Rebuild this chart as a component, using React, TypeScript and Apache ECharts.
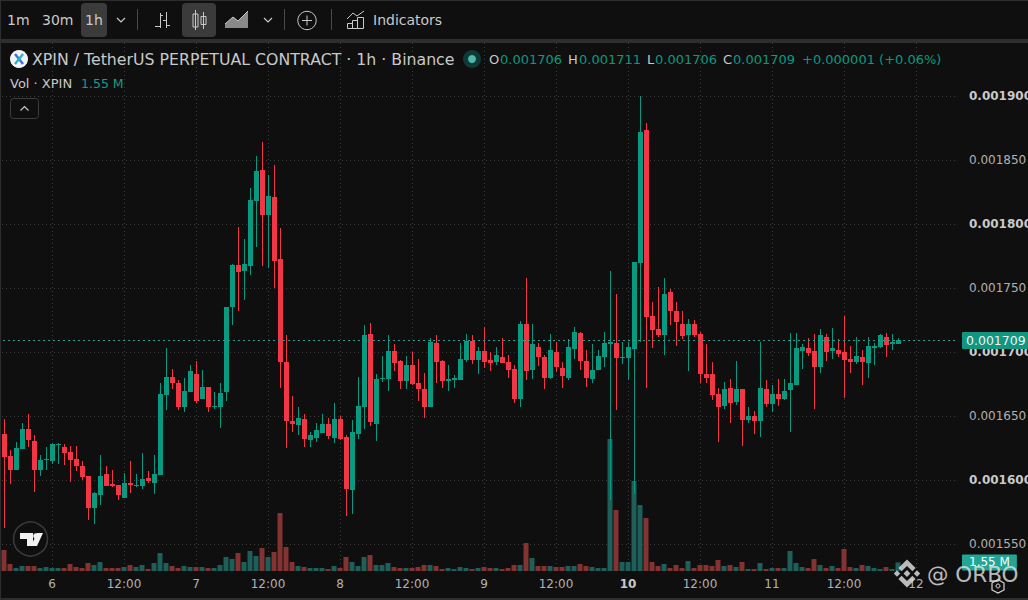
import React, { useEffect, useRef } from "react";
import * as echarts from "echarts";

// Prices are in millionths of USDT (1636 = 0.001636); volumes are in millions.
const opens = [1636,1618.5,1608,1624.5,1639.8,1630.5,1608,1615.6,1615.1,1627.3,1625.8,1621.9,1616.4,1610.9,1603.1,1578.4,1588.5,1604.7,1596.9,1596.1,1586.2,1597.7,1595.6,1595.6,1601.6,1597.9,1604.2,1666.4,1680.5,1675.8,1657,1668.8,1682.8,1663.3,1672.7,1657,1657,1668.8,1735.2,1767.9,1763.3,1767.2,1818,1842.2,1807,1821.1,1772.7,1692.2,1646.1,1643,1647.7,1631.3,1632.8,1636.7,1643.8,1632.8,1647.7,1633.6,1592.2,1635.9,1657,1714,1643.8,1678.9,1678.9,1700.8,1693,1677.4,1689.8,1675.8,1671.1,1657,1707,1693,1677.4,1678.1,1678.1,1693.8,1708.6,1693.8,1700.8,1693.8,1692.2,1696.1,1692.2,1686.7,1663.3,1721.9,1686,1703.9,1696.1,1679.7,1700,1687.5,1679.7,1702.3,1714.8,1693,1678.9,1686,1696.1,1706.3,1707,1695.3,1695.3,1702.3,1769.5,1873.4,1728.1,1718,1713.3,1746.9,1732,1721.9,1713.3,1721.9,1714.1,1682.8,1682.8,1667.2,1657.8,1671.9,1660.9,1671.1,1646.9,1650,1646.1,1671.1,1659.4,1667.2,1663.3,1670.3,1674.2,1700.8,1703.1,1700.8,1688.3,1711.7,1700.8,1701.6,1700,1694.5,1692.2,1696.1,1691.4,1703.1,1703.9,1711.7,1706.2,1706];
const highs = [1647.4,1623.4,1629.4,1644.3,1651.3,1635.2,1619.5,1625.5,1628.6,1628.6,1628.1,1626.6,1626.6,1614.8,1603.1,1590.6,1619.5,1610.9,1607.8,1596.1,1605.5,1614.8,1604.7,1621.1,1607,1619.5,1675.8,1703.1,1686.7,1678.1,1679.7,1689.8,1693,1685.9,1672.7,1668.8,1675.8,1735.2,1768.8,1797.7,1788.3,1828.1,1853.1,1864,1838.3,1846.1,1796.9,1713.3,1665.6,1657,1651.6,1637.5,1644.5,1651.6,1648.4,1660.2,1650,1635.2,1646.9,1680.5,1721.1,1722.7,1682.8,1696.9,1713.3,1706.2,1693.8,1696.9,1700,1694.5,1683.6,1710.9,1713.3,1693.8,1689.8,1682,1707,1714,1713.3,1703.9,1719.5,1700,1703.9,1710.9,1697.7,1689.8,1724.2,1757.8,1721.9,1707,1697.7,1714,1707.8,1692.2,1710.2,1719.5,1715.6,1701.6,1706.2,1701.6,1715.6,1763.3,1745.3,1707.8,1707.8,1770.3,1900,1878.9,1739.1,1750.8,1757.8,1749.2,1739.1,1732,1725.8,1725,1715.6,1706.3,1692.2,1671.9,1676.6,1678.9,1693,1671.1,1657,1653.9,1707.8,1678.1,1674.2,1678.9,1678.9,1714.8,1714.8,1706.2,1710.9,1714,1718,1714,1718.7,1710.1,1728.1,1704.7,1711.7,1701.6,1711.7,1707,1714,1714.8,1714,1711];
const lows = [1562.7,1597.1,1608,1624.5,1626,1590.9,1603.4,1608,1612.8,1612.8,1611.7,1598.7,1607.3,1600.3,1569,1565.9,1580.7,1595.6,1594.8,1584.6,1586.2,1590.1,1594.8,1593.2,1597.9,1589.3,1604.2,1654.7,1671.1,1654.7,1653.1,1668.8,1659.9,1663.3,1653.1,1655.5,1640.6,1661.7,1721.1,1732,1740.6,1760.2,1782,1767.2,1765.6,1750,1671.9,1625,1637.5,1635.2,1625.8,1625.8,1629.7,1636.7,1632,1628.9,1631.3,1571.9,1573.4,1632,1639.9,1642.2,1630.5,1676.6,1669.5,1685.2,1671.1,1671.1,1674.2,1661.7,1648.4,1657,1675.8,1671.9,1669.5,1671.9,1678.1,1692.2,1690.6,1682.8,1687.5,1685.2,1689.8,1691.4,1679.7,1660.2,1657,1678.1,1678.9,1689,1671.1,1678.9,1684.4,1671.9,1678.1,1694.5,1686,1672.7,1675.8,1686,1688.3,1584.4,1654.7,1690.6,1678.1,1589,1707.8,1671.9,1703.1,1711.7,1697.7,1721.1,1704.7,1710.2,1685.2,1711.7,1675.5,1675.8,1662.5,1629.7,1655.5,1644.5,1658.6,1626.6,1644.5,1635.9,1633.6,1657,1653.1,1657.8,1662.5,1637.5,1674.2,1686.7,1696.9,1655.5,1683.6,1693,1694.5,1696.1,1664,1683.6,1690.6,1674.2,1679.7,1689.8,1703.1,1696.1,1701.6,1706];
const closes = [1618.2,1608,1625,1639.8,1631.5,1608,1615.6,1616.4,1628.1,1628.1,1621.1,1615.9,1611.2,1602.6,1578.4,1589.9,1603.1,1595.6,1595.6,1588.5,1597.7,1596.4,1596.1,1600.8,1599.5,1604.7,1667.2,1680.5,1675.8,1657,1669.5,1685.2,1661.7,1672.7,1657,1657.8,1668,1735.2,1767.9,1762.5,1768.8,1818.8,1841.4,1807,1821.9,1771.1,1692.2,1646.1,1643.8,1648.4,1632,1635.2,1639.1,1643.8,1634.4,1647.7,1632,1593,1637.5,1657.8,1713.3,1645.3,1678.9,1679.7,1700.8,1691.4,1677.4,1689.8,1675,1671.1,1657,1707.8,1692.2,1677.4,1678.9,1679.7,1694.5,1708.6,1693.8,1700.8,1692.2,1691.4,1697.7,1691.4,1686,1663.3,1721.9,1685.2,1706.2,1696.1,1679.7,1701.6,1688.3,1681.3,1703.9,1715.6,1693,1679.7,1686,1696.9,1707,1707.8,1695.3,1696.1,1703.9,1770.3,1871.9,1727.4,1717.2,1713.3,1745.3,1732,1723.4,1712.5,1721.9,1713.3,1682.8,1679.7,1666.4,1657,1671.1,1660.2,1671.1,1646.9,1650,1646.1,1671.9,1659.4,1667.2,1663.3,1669.5,1675.8,1703.1,1703.9,1699.2,1688.3,1713.3,1700,1703.1,1698.4,1693.7,1692.2,1696.9,1692.2,1704.7,1704.7,1713.3,1705.5,1707.8,1709];
const volumes = [3.78,1.26,0.54,0.9,0.9,0.9,0.54,0.72,0.54,0.54,0.54,1.26,0.72,0.54,1.44,1.08,1.62,0.54,0.54,0.54,0.72,1.08,0.72,1.08,0.36,1.44,3.24,1.44,0.9,0.54,0.9,0.72,0.72,0.72,0.54,0.54,1.08,2.52,2.16,3.24,1.62,3.6,2.7,4.14,2.52,3.42,10.44,4.32,1.62,0.9,0.72,0.54,0.54,0.54,0.36,0.9,0.54,2.52,1.62,0.9,2.52,2.88,1.08,1.08,1.44,0.72,0.54,0.54,0.54,0.72,1.08,1.08,0.9,0.36,0.54,0.36,0.72,0.54,0.36,0.54,0.72,0.54,0.54,0.36,0.54,1.08,1.08,5.04,2.34,0.9,0.9,0.9,0.72,0.72,0.9,0.9,1.26,0.9,0.72,0.54,0.54,23.76,10.98,1.62,1.62,16.2,11.88,9.54,1.62,0.9,1.26,0.54,1.08,0.54,1.8,0.54,1.08,1.08,0.9,1.98,0.9,1.08,0.72,1.62,0.36,0.36,1.44,0.36,0.54,0.54,0.54,3.6,1.44,0.72,0.54,2.16,1.08,0.54,0.9,0.54,3.96,0.72,0.54,1.08,0.9,0.54,0.36,0.72,0.36,1.55];
const tickBars = [8,20,32,44,56,68,80,92,104,116,128,140,152];
const tickLabels = ["6","12:00","7","12:00","8","12:00","9","12:00","10","12:00","11","12:00","12"];
const boldTickLabels = ["10"];
const lastPrice = 1709;
const lastVolume = 1.55;
const priceMin = 1550;
const priceMax = 1900;
const priceStep = 50;
const legendOhlc = ["0.001706","0.001711","0.001706","0.001709"];
const legendChange = "+0.000001 (+0.06%)";
const toolbarIntervals = ["1m","30m","1h"];
const titleText = "XPIN / TetherUS PERPETUAL CONTRACT · 1h · Binance";

const FONT = '"DejaVu Sans"';
const UP = "#089981";
const DOWN = "#F23645";
const UP_VOL = "#1f5f5a";
const DOWN_VOL = "#843333";
const BG = "#0f0f0f";
const GRID = "#3c3c3c";
const TXT = "#c9c9c9";
const BAND = "#2e2e2e";
const SLOTS = 161; // one spare slot before the first bar, empty slots after the last

const t = (x: number, y: number, text: string, fill: string, size: number, extra: any = {}) => ({
  type: "text", x, y, z: 60, silent: true,
  style: { text, fill, font: `${extra.weight || "normal"} ${size}px ${FONT}`, verticalAlign: "middle", align: extra.align || "left" },
});
const line = (x1: number, y1: number, x2: number, y2: number, stroke: string, w = 1) => ({
  type: "line", z: 60, silent: true, shape: { x1, y1, x2, y2 }, style: { stroke, lineWidth: w },
});
const rect = (x: number, y: number, width: number, height: number, fill: string, r = 0, stroke?: string) => ({
  type: "rect", z: 59, silent: true, shape: { x, y, width, height, r }, style: { fill, stroke },
});
const poly = (points: number[][], stroke: string, w = 1) => ({
  type: "polyline", z: 60, silent: true, shape: { points }, style: { stroke, lineWidth: w, fill: "none" },
});
const gon = (points: number[][], fill: string) => ({
  type: "polygon", z: 60, silent: true, shape: { points }, style: { fill },
});
const circ = (cx: number, cy: number, r: number, fill: string, stroke?: string, w = 1) => ({
  type: "circle", z: 60, silent: true, shape: { cx, cy, r }, style: { fill, stroke, lineWidth: w },
});
const chevron = (cx: number, cy: number, dir: number, c = TXT) =>
  poly([[cx - 4, cy - 2 * dir], [cx, cy + 2 * dir], [cx + 4, cy - 2 * dir]], c, 1.2);

function buildGraphics() {
  const mark = "rgba(225,225,225,0.82)";
  const wm = (cx: number, cy: number) => [
    [[0, -3.4], [3.4, 0], [0, 3.4], [-3.4, 0]],
    [[-10, -3.2], [-6.8, 0], [-10, 3.2], [-13.2, 0]],
    [[10, -3.2], [13.2, 0], [10, 3.2], [6.8, 0]],
    [[0, -14], [8.6, -5.4], [5.4, -2.2], [0, -7.6], [-5.4, -2.2], [-8.6, -5.4]],
    [[0, 14], [8.6, 5.4], [5.4, 2.2], [0, 7.6], [-5.4, 2.2], [-8.6, 5.4]],
  ].map((pts) => gon(pts.map(([x, y]) => [x + cx, y + cy]), mark));
  const hex = [[998, 579.5], [1004, 583], [1004, 590], [998, 593], [992, 590], [992, 583], [998, 579.5]];
  return [
    // frame and toolbar
    rect(0, 0, 1028, 43, BG),
    rect(0, 0, 1028, 1, BAND),
    rect(0, 39, 1028, 4, BAND),
    rect(0, 598, 1028, 2, BAND),
    rect(0, 0, 1, 600, BAND),
    t(7, 20, toolbarIntervals[0], TXT, 14),
    t(42, 20, toolbarIntervals[1], TXT, 14),
    rect(81, 3, 26, 34, "#3b3b3b", 4),
    t(85, 20, toolbarIntervals[2], TXT, 14),
    chevron(121, 20, 1),
    line(137.5, 9, 137.5, 30, "#4a4a4a"),
    line(160.5, 13, 160.5, 28, TXT), line(155, 26.5, 160.5, 26.5, TXT), line(160.5, 15.5, 163, 15.5, TXT),
    line(166.5, 12, 166.5, 28, TXT), line(163, 20.5, 166.5, 20.5, TXT), line(166.5, 25.5, 170, 25.5, TXT),
    rect(182, 3, 34, 34, "#3b3b3b", 4),
    line(195.5, 10, 195.5, 30, TXT), rect(193, 14, 5, 13, "#3b3b3b", 0, TXT),
    line(203.5, 12, 203.5, 29, TXT), rect(201, 16.5, 5, 8, "#3b3b3b", 0, TXT),
    gon([[225, 28], [225, 24], [233, 17], [238, 21], [248, 11], [248, 28]], "#8a8a8a"),
    poly([[225, 24], [233, 17], [238, 21], [248, 11]], TXT),
    chevron(268, 20, 1),
    line(284.5, 9, 284.5, 30, "#4a4a4a"),
    circ(307, 20.5, 9.2, "none", TXT),
    line(302, 20.5, 312, 20.5, TXT), line(307, 15.5, 307, 25.5, TXT),
    line(331.5, 9, 331.5, 30, "#4a4a4a"),
    rect(347.5, 23.5, 5, 5, "none", 0, TXT), rect(352.5, 20.5, 5, 8, "none", 0, TXT), rect(357.5, 17.5, 6, 11, "none", 0, TXT),
    poly([[347, 19], [353, 13], [357, 16], [364, 11]], TXT),
    t(373, 20, "Indicators", TXT, 14),
    // legend
    circ(19, 59, 9, "#f4f4f6"),
    poly([[15, 54], [23, 64]], "#3f6fe0", 2.4),
    poly([[23, 54], [15, 64]], "#24b7c9", 2.4),
    t(32, 59, titleText, TXT, 15.75),
    circ(472, 59, 9, "#0f3a36"),
    circ(472, 59, 4, "#4fb8ad"),
    t(489, 59, "O", TXT, 13), t(500, 59, legendOhlc[0], UP, 13),
    t(568, 59, "H", TXT, 13), t(579, 59, legendOhlc[1], UP, 13),
    t(647, 59, "L", TXT, 13), t(655, 59, legendOhlc[2], UP, 13),
    t(723, 59, "C", TXT, 13), t(733, 59, legendOhlc[3], UP, 13),
    t(802, 59, legendChange, UP, 13),
    t(10, 83, "Vol · XPIN", TXT, 13),
    t(81, 83, `${lastVolume.toFixed(2)} M`, "#1a9a8a", 12.5),
    rect(10.5, 98.5, 28, 20, BG, 3, "#3c3c3c"),
    chevron(24.5, 108.5, -1),
    // TradingView badge
    circ(30.5, 539, 17, BG, "#3c3c3c", 1.5),
    gon([[20, 533], [33, 533], [33, 546], [27, 546], [27, 539], [20, 539]], "#f2f2f2"),
    circ(36, 536, 2.8, "#f2f2f2"),
    gon([[43, 533], [37, 546], [31, 546], [37, 533]], "#f2f2f2"),
    // watermark and scale settings
    ...wm(907, 573.5),
    t(927, 574, "@ ORBO", mark, 21.5),
    poly(hex, "#d8d8d8", 1.2),
    circ(998, 586, 2, "none", "#d8d8d8"),
  ];
}

// One candle: a 1px wick and a 5px body, placed through the chart's own scales.
function renderCandle(_params: any, api: any) {
  const slot = api.value(0);
  const o = api.value(1);
  const c = api.value(2);
  const fill = c >= o ? UP : DOWN;
  const x = Math.round(api.coord([slot, o])[0]);
  const y = (v: number) => Math.round(api.coord([slot, v])[1]);
  const top = y(Math.max(o, c));
  const bottom = y(Math.min(o, c));
  const hi = y(api.value(4));
  const lo = y(api.value(3));
  return {
    type: "group",
    children: [
      { type: "rect", shape: { x, y: hi, width: 1, height: Math.max(1, lo - hi) }, style: { fill } },
      { type: "rect", shape: { x: x - 2, y: top, width: 5, height: Math.max(1, bottom - top) }, style: { fill } },
    ],
  };
}

export default function App() {
  const ref = useRef<HTMLDivElement>(null);
  useEffect(() => {
    if (!ref.current) return;
    const chart = echarts.init(ref.current, undefined, { renderer: "svg" });
    const slotLabels: string[] = Array.from({ length: SLOTS }, () => "");
    tickBars.forEach((b, k) => { slotLabels[b + 1] = tickLabels[k]; });
    const isTick = (index: number) => slotLabels[index] !== "";
    const candles = opens.map((o, i) => [i + 1, o, closes[i], lows[i], highs[i]]);
    const volData = ["-", ...volumes.map((v, i) => ({
      value: v,
      itemStyle: { color: closes[i] >= opens[i] ? UP_VOL : DOWN_VOL },
    }))];
    const xBase = {
      type: "category", data: slotLabels, boundaryGap: false,
      axisLine: { show: false }, axisTick: { show: false },
    };
    const dotted = { color: GRID, width: 1, type: [1, 3] };
    chart.setOption({
      animation: false,
      backgroundColor: BG,
      textStyle: { fontFamily: FONT },
      grid: [
        { left: -2, top: 96, width: 960, height: 448, outerBoundsMode: "none" },
        { left: -2, top: 43, width: 960, height: 528, outerBoundsMode: "none" },
      ],
      xAxis: [
        { ...xBase, gridIndex: 0, axisLabel: { show: false }, splitLine: { show: false } },
        {
          ...xBase, gridIndex: 1,
          splitLine: { show: true, interval: (i: number) => isTick(i), lineStyle: dotted },
          axisLabel: {
            show: true, interval: (i: number) => isTick(i), margin: 7,
            color: "#b2b2b2", fontSize: 12, fontFamily: FONT,
            formatter: (v: string) => boldTickLabels.includes(v) ? `{b|${v}}` : v,
            rich: { b: { fontWeight: "bold", fontSize: 12, color: TXT, fontFamily: FONT } },
          },
        },
      ],
      yAxis: [
        {
          type: "value", gridIndex: 0, position: "right", scale: true,
          min: priceMin, max: priceMax, interval: priceStep,
          axisLine: { show: false }, axisTick: { show: false },
          splitLine: { show: true, lineStyle: dotted },
          axisLabel: {
            margin: 11, color: "#b2b2b2", fontSize: 12, fontFamily: FONT,
            formatter: (v: number) => {
              const s = (v / 1e6).toFixed(6);
              return v % 100 === 0 ? `{b|${s}}` : `{n|${s}}`;
            },
            rich: {
              b: { fontWeight: "bold", fontSize: 12, color: TXT, fontFamily: FONT },
              n: { fontSize: 12, color: "#b2b2b2", fontFamily: FONT },
            },
          },
        },
        { type: "value", gridIndex: 1, min: 0, max: 95.04, show: false, splitLine: { show: false } },
      ],
      series: [
        {
          type: "bar", xAxisIndex: 1, yAxisIndex: 1, data: volData, barWidth: 5, z: 1, silent: true,
          markLine: {
            silent: true, symbol: "none", lineStyle: { color: "rgba(0,0,0,0)" },
            data: [{ yAxis: lastVolume }],
            label: {
              show: true, position: "end", distance: 4, formatter: `${lastVolume.toFixed(2)} M`,
              backgroundColor: "#22a594", color: "#ffffff", fontFamily: FONT, fontSize: 12,
              padding: [2, 7, 2, 7], borderRadius: 1,
            },
          },
        },
        {
          type: "custom", xAxisIndex: 0, yAxisIndex: 0, data: candles, z: 3, silent: true, clip: true,
          encode: { x: 0, y: [1, 2, 3, 4] },
          renderItem: renderCandle,
          markLine: {
            silent: true, symbol: "none",
            lineStyle: { color: "#2a9d8f", width: 1, type: [2, 3] },
            data: [{ yAxis: lastPrice }],
            label: {
              show: true, position: "end", distance: 4, formatter: (lastPrice / 1e6).toFixed(6),
              backgroundColor: "#12967f", color: "#e8f5f2", fontFamily: FONT, fontSize: 12.5,
              padding: [2, 6, 2, 4], borderRadius: 1,
            },
          },
        },
      ],
      graphic: { elements: buildGraphics() },
    });
    return () => chart.dispose();
  }, []);
  return (
    <div style={{ position: "fixed", left: 0, top: 0, width: 1028, height: 600, overflow: "hidden" }}>
      <div ref={ref} style={{ width: 1028, height: 600 }} />
    </div>
  );
}
